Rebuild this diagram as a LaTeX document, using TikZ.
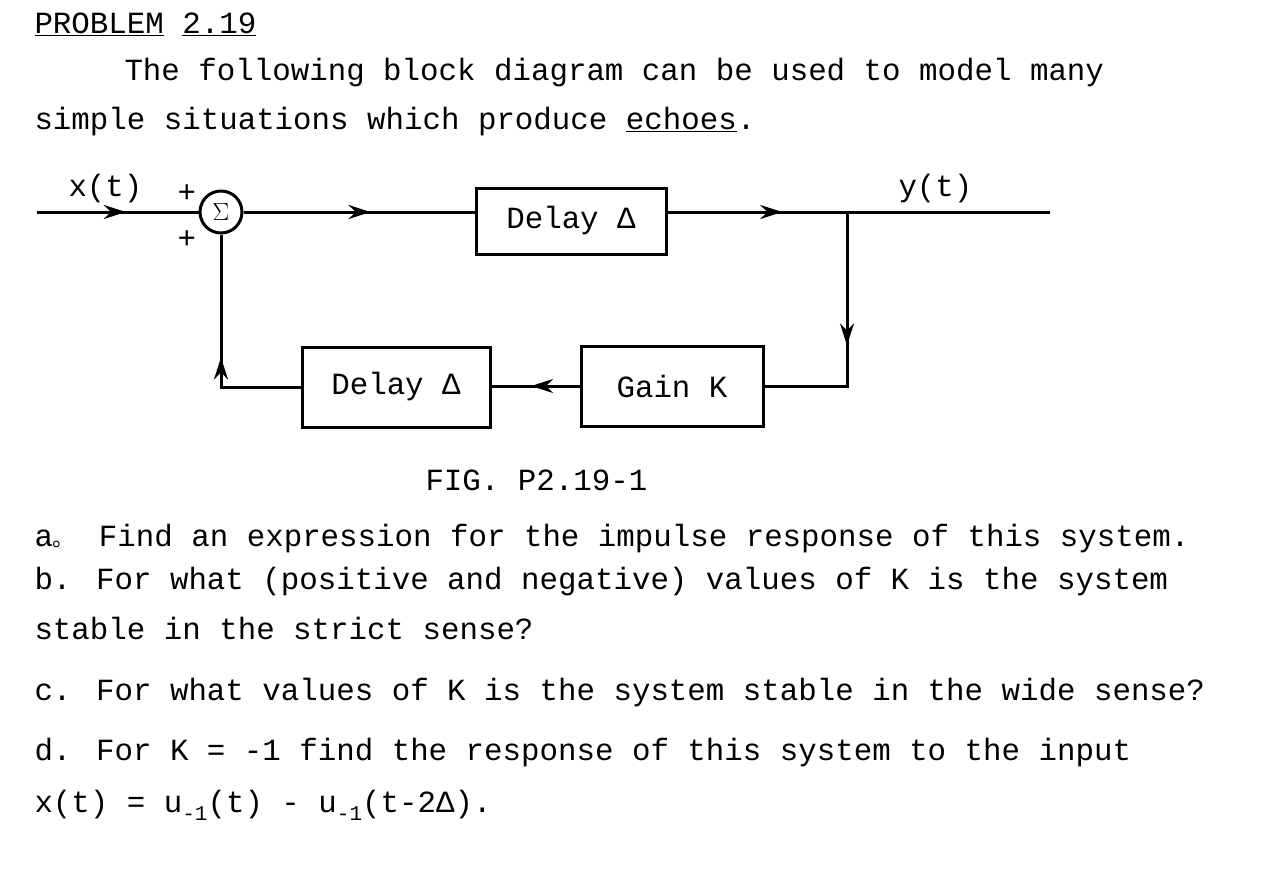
\documentclass[tikz,border=0pt]{standalone}
\usepackage{fontspec}
\setmainfont{Liberation Mono}
\newfontfamily\cjk{Noto Sans CJK SC}
\usetikzlibrary{decorations.markings,arrows.meta}
\newcommand{\subm}{\raisebox{-8pt}{\fontsize{21}{21}\selectfont -1}}
\begin{document}
\begin{tikzpicture}[x=1pt,y=-1pt,line width=3pt,
  txt/.style={anchor=base west,inner sep=0pt,font=\fontsize{30.8}{36}\selectfont},
  blk/.style={draw,line width=3pt,minimum width=190pt,minimum height=66pt,inner sep=0pt,font=\fontsize{30.8}{36}\selectfont},
  midarrow/.style={postaction={decorate},decoration={markings,mark=at position #1 with {\arrow{Stealth[length=22pt,width=14pt]}}}}]
\useasboundingbox[fill=white] (0,0) rectangle (1274,876);
\node[txt] (t1) at (33,33) {\underline{PROBLEM} \underline{2.19}};
\node[txt] (t2) at (123,80) {The following block diagram can be used to model many};
\node[txt] (t3) at (33,129) {simple situations which produce \underline{echoes}.};
% diagram
\coordinate (in) at (37,212);
\node[draw,circle,line width=3pt,minimum size=42pt,inner sep=0pt,font=\fontsize{24}{24}\selectfont] (sum) at (221,212) {$\Sigma$};
\node[blk] (d1) at (571,221) {Delay Δ};
\coordinate (out) at (1050,212);
\coordinate (br) at (847,212);
\coordinate (bc) at (847,386);
\node[blk,minimum width=182pt,minimum height=80pt] (g) at (672,386) {Gain K};
\node[blk,minimum width=188pt,minimum height=80pt] (d2) at (396,387) {Delay Δ};
\coordinate (bl) at (221,387);
\draw[midarrow=0.55] (in) -- (sum.west);
\draw[midarrow=0.55] (sum.east) -- (sum.east -| d1.west);
\draw[midarrow=0.3] (sum.east -| d1.east) -- (out);
\draw[midarrow=0.52] (br) -- (bc) -- (g.east);
\draw[midarrow=0.55] (g.west) -- (g.west -| d2.east);
\draw[midarrow=0.47] (d2.west) -- (bl) -- (sum.south);
\node[txt] (xl) at (67,196) {x(t)};
\node[txt] (yl) at (897,196) {y(t)};
\node[txt] (p1) at (176,202) {+};
\node[txt] (p2) at (176,248) {+};
\node[txt] (fig) at (424,490) {FIG. P2.19-1};
\node[txt] (a) at (33,546) {a{\cjk\fontsize{22}{22}\selectfont 。}\hspace{24pt}Find an expression for the impulse response of this system.};
\node[txt] (b) at (33,589) {b. For what (positive and negative) values of K is the system};
\node[txt] (b2) at (33,639) {stable in the strict sense?};
\node[txt] (c) at (33,700) {c. For what values of K is the system stable in the wide sense?};
\node[txt] (d) at (33,760) {d. For K = -1 find the response of this system to the input};
\node[txt] (d2t) at (33,812) {x(t) = u\subm(t) - u\subm(t-2Δ).};
\end{tikzpicture}
\end{document}
